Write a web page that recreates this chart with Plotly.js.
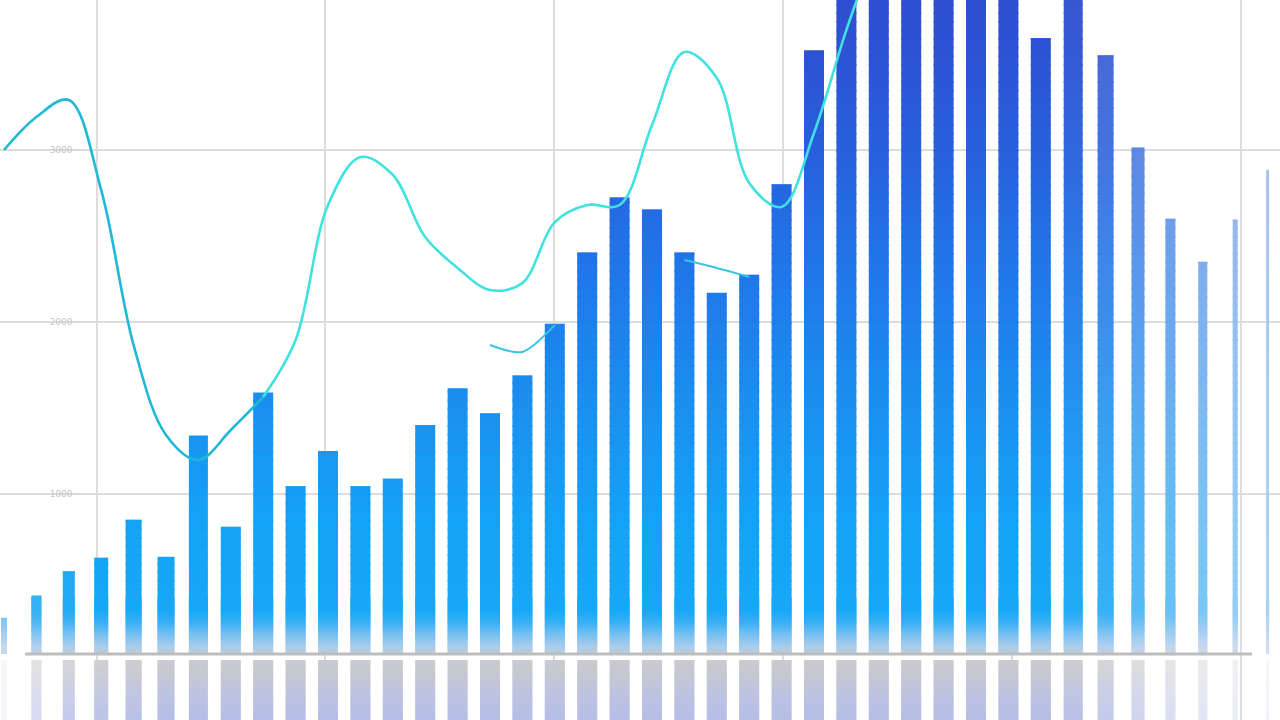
<!DOCTYPE html>
<html><head><meta charset="utf-8">
<script src="https://cdn.plot.ly/plotly-3.0.1.min.js"></script>
<style>html,body{margin:0;padding:0;background:#fff;overflow:hidden}#chart{width:1280px;height:720px}</style>
</head><body><div id="chart"></div>
<script>
// ---------------- data ----------------
const categories = [1,2,3,4,5,6,7,8,9,10,11,12,13,14,15,16,17,18,19,20,21,22,23,24,25,26,27,28,29,30,31,32,33,34,35,36,37,38,39,40,41];
const barValues = [280,410,550,630,850,635,1340,810,1590,1045,1250,1045,1090,1400,1615,1470,1690,1990,2405,2725,2655,2405,2170,2275,2800,3580,4100,4300,4400,4250,4350,4200,3650,4000,3550,3015,2600,2350,2595,2885,2690];
const lineValues = [3000,3192,3291,2767,1866,1343,1198,1372,1564,1895,2680,2959,2855,2494,2314,2186,2227,2581,2680,2680,3145,3570,3419,2808,2669,3099,3698,4221,null,null,null,null,null,null,null,null,null,null,null,null,null];
const sideValues = [null,null,null,null,null,null,null,null,null,null,null,null,null,null,null,1866,1826,1983,null,null,null,2360,2314,2262,null,null,null,null,null,null,null,null,null,null,null,null,null,null,null,null,null];
const tickValues = [1000,2000,3000];
const tickLabels = ['1000','2000','3000'];

// ---------------- style ----------------
const FLOOR = 70;            // visual baseline of the bars
const PX = 32.4;             // pixels per category step
const CENTER_PX = 652;       // pixel of category 21
const barPx = [6,10,12,14,16,17,19,20,20,20,20,20,20,20,20,20,20,20,20,20,20,20,20,20,20,20,20,20,20,20,20,20,20,19,16,13,10,9,5,3,2.5];
const fade  = [0.45,0.15,0.05,0,0,0,0,0,0,0,0,0,0,0,0,0,0,0,0,0,0,0,0,0,0,0,0,0,0,0,0,0,0,0.05,0.15,0.3,0.4,0.5,0.62,0.72,0.72];
const reflFade = [0.85,0.45,0.2,0.1,0.05,0,0,0,0,0,0,0,0,0,0,0,0,0,0,0,0,0,0,0,0,0,0,0,0,0,0,0,0,0.05,0.2,0.35,0.5,0.6,0.72,0.82,0.85];
const widths = barPx.map(p => p / PX);

function hex(c){return [parseInt(c.slice(1,3),16),parseInt(c.slice(3,5),16),parseInt(c.slice(5,7),16)];}
function mixArr(a,b,t){return a.map((v,i)=>v+(b[i]-v)*t);}
function rgb(a){return 'rgb('+a.map(Math.round).join(',')+')';}
function ramp(stops, v){
  if (v <= stops[0][0]) return hex(stops[0][1]);
  for (let k=1;k<stops.length;k++){
    if (v <= stops[k][0]){
      const t=(v-stops[k-1][0])/(stops[k][0]-stops[k-1][0]);
      return mixArr(hex(stops[k-1][1]),hex(stops[k][1]),t);
    }
  }
  return hex(stops[stops.length-1][1]);
}
const barStops = [[70,'#bccbd8'],[120,'#abcdea'],[190,'#78c0f2'],[260,'#3cb0f5'],[330,'#17a8f7'],[900,'#14a1f6'],[1500,'#1a90f0'],[2000,'#1e80ec'],[2500,'#2270e6'],[3000,'#2760dd'],[3600,'#2d52d3'],[4400,'#3049cc']];
const reflStops = [[-330,'#b5bde8'],[-160,'#bec3df'],[-60,'#c6c7d1'],[35,'#cbcbce']];
const fadeTo = hex('#dfe4f2');
const white = hex('#ffffff');

const traces = [];
// reflection bands (below the baseline)
const RSTEP = 20;
for (let a = 35; a > -340; a -= RSTEP) {
  const top = a === 35 ? a : a + 8;
  const b = a - RSTEP;
  const col = ramp(reflStops, a - RSTEP/2);
  traces.push({type:'bar', x:categories, base:categories.map(()=>top), y:categories.map(()=>b-top),
    width:widths, marker:{color:reflFade.map(f=>rgb(mixArr(col,white,f))), line:{width:0}},
    hoverinfo:'skip', showlegend:false});
}
// bar bands (smooth vertical gradient)
let lo = FLOOR;
while (lo < 4500) {
  const step = lo < 400 ? 10 : 50;
  const hi = lo + step;
  const start = lo === FLOOR ? lo : lo - 10;
  const col = ramp(barStops, lo + step/2);
  traces.push({type:'bar', x:categories, base:barValues.map(()=>start),
    y:barValues.map(v=>Math.max(0,Math.min(v,hi)-start)),
    width:widths, marker:{color:fade.map(f=>rgb(mixArr(col,fadeTo,f))), line:{width:0}},
    hoverinfo:'skip', showlegend:false});
  lo = hi;
}
// main line, split in two tones
const split = 9;
traces.push({type:'scatter', mode:'lines', x:categories.slice(0,split), y:lineValues.slice(0,split),
  line:{shape:'spline', smoothing:1, color:'#1fb8d6', width:2.6}, hoverinfo:'skip', showlegend:false});
traces.push({type:'scatter', mode:'lines', x:categories.slice(split-1), y:lineValues.slice(split-1),
  line:{shape:'spline', smoothing:1, color:'#40e2e0', width:2.6}, hoverinfo:'skip', showlegend:false});
traces.push({type:'scatter', mode:'lines', x:categories, y:sideValues, connectgaps:false,
  line:{shape:'spline', smoothing:0.8, color:'#36c6e2', width:2}, hoverinfo:'skip', showlegend:false});

const toCat = px => 21 + (px - CENTER_PX) / PX;
const layout = {
  width:1280, height:720, margin:{l:0,r:0,t:0,b:0},
  paper_bgcolor:'#ffffff', plot_bgcolor:'#ffffff',
  barmode:'overlay', showlegend:false,
  xaxis:{type:'linear', range:[toCat(0), toCat(1280)], showgrid:true, gridcolor:'#dcdcdc', gridwidth:1.5,
    tickmode:'array', tickvals:[97,325,554,783,1012,1241].map(toCat), showticklabels:false,
    zeroline:false, showline:false, ticks:''},
  yaxis:{range:[-314,3872], tickmode:'array', tickvals:tickValues, ticktext:tickLabels,
    showgrid:true, gridcolor:'#dcdcdc', gridwidth:1.5, zeroline:false, showline:false,
    anchor:'free', position:0.062, ticks:'outside', ticklen:5, tickcolor:'#d6d6d6',
    tickfont:{size:9, color:'#c6c6c6', family:'DejaVu Sans'}},
  shapes:[{type:'line', xref:'paper', yref:'y', x0:25/1280, x1:1252/1280, y0:FLOOR, y1:FLOOR,
    line:{color:'#bdbdbd', width:3}, layer:'above'}]
};
Plotly.newPlot('chart', traces, layout, {displayModeBar:false, staticPlot:true});
</script></body></html>
